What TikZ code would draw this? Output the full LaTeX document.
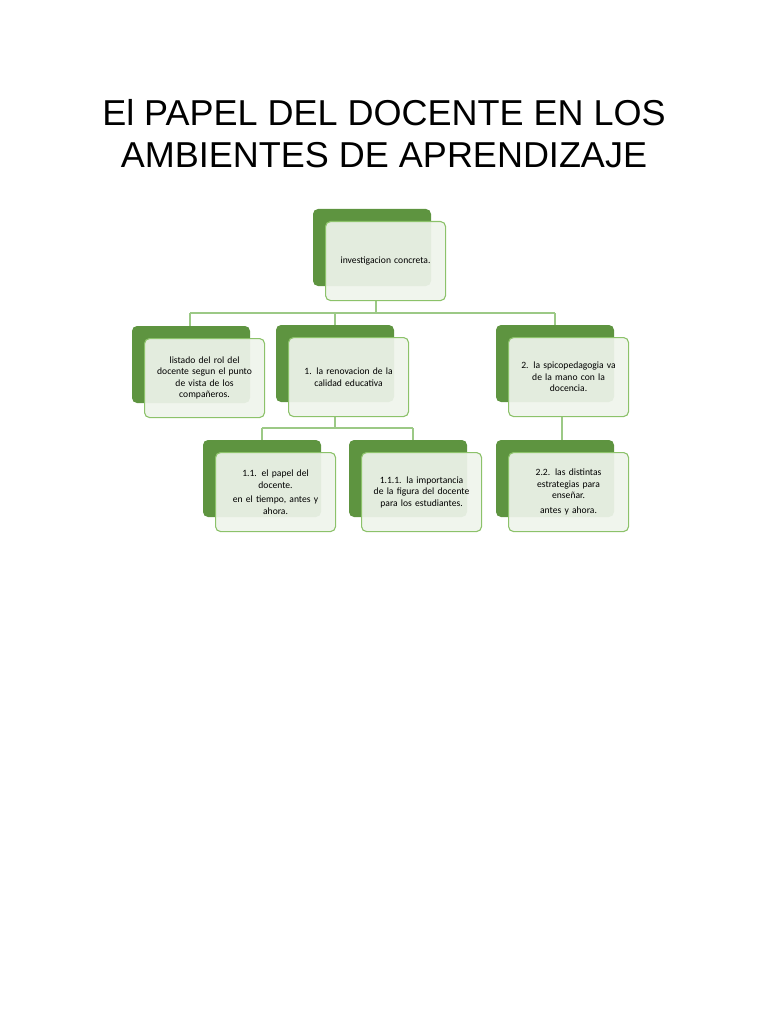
\documentclass[tikz,border=0pt]{standalone}
\usepackage{fontspec}
\setmainfont{Liberation Sans}
\newfontfamily\boxfont{Carlito}
\definecolor{dk}{HTML}{5E9440}
\definecolor{bd}{HTML}{8CC26A}
\definecolor{lf}{HTML}{EFF4EC}
\definecolor{ln}{HTML}{9CC986}
\tikzset{
 back/.style={fill=dk,rounded corners=5pt},
 front/.style={draw=bd,line width=1.1pt,fill=lf,fill opacity=0.92,text opacity=1,rounded corners=5pt,align=center,font=\boxfont\fontsize{9.6}{11.5}\selectfont},
 conn/.style={draw=ln,line width=1.2pt}
}
\begin{document}
\begin{tikzpicture}[x=1pt,y=-1pt]
\useasboundingbox (0,0) rectangle (768,1024);
\node[font=\fontsize{36}{42}\selectfont,align=center] (title) at (384,134) {El PAPEL DEL DOCENTE EN LOS\\AMBIENTES DE APRENDIZAJE};
% connectors
\coordinate (t1) at (376,300); \coordinate (t2) at (376,313);
\coordinate (h1) at (190,313); \coordinate (h2) at (335,313); \coordinate (h3) at (555,313);
\coordinate (a1) at (190,326); \coordinate (a2) at (335,325); \coordinate (a3) at (555,337);
\draw[conn] (t1)--(t2) (h1)--(h3) (h1)--(a1) (h2)--(a2) (h3)--(a3);
\coordinate (m1) at (335,416); \coordinate (m2) at (335,428);
\coordinate (g1) at (262,428); \coordinate (g2) at (413,428);
\coordinate (b1) at (262,452); \coordinate (b2) at (413,452);
\draw[conn] (m1)--(m2) (g1)--(g2) (g1)--(b1) (g2)--(b2);
\coordinate (r1) at (562,416); \coordinate (r2) at (562,452);
\draw[conn] (r1)--(r2);
% boxes
\newcommand\bx[6]{%
 \fill[back] (#2,#3) rectangle ++(118,77);
 \node[front,minimum width=120pt,minimum height=79pt,text width=110pt,anchor=north west] (#1) at (#2+12,#3+12) {#4};
}
\bx{top}{313}{209}{investigacion concreta.\\[-4pt]}{}{}
\bx{n1}{132}{326}{listado del rol del\\docente segun el punto\\de vista de los\\compañeros.\\[6pt]}{}{}
\bx{n2}{276}{325}{1. la renovacion de la\\calidad educativa\\[18pt]}{}{}
\bx{n3}{496}{325}{2. la spicopedagogia va\\de la mano con la\\docencia.\\[12pt]}{}{}
\bx{n4}{203}{440}{1.1. el papel del\\docente.\\[3pt]en el tiempo, antes y\\ahora.}{}{}
\bx{n5}{349}{440}{1.1.1. la importancia\\de la figura del docente\\para los estudiantes.\\[16pt]}{}{}
\bx{n6}{496}{440}{2.2. las distintas\\estrategias para\\enseñar.\\[3pt]antes y ahora.}{}{}
\end{tikzpicture}
\end{document}
